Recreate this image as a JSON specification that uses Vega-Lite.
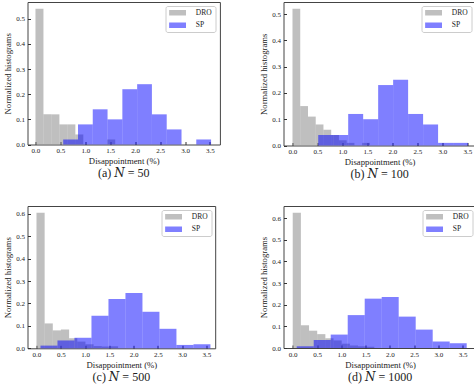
{
  "$schema": "https://vega.github.io/schema/vega-lite/v6.json",
  "padding": {"left": 2.5, "top": 1, "right": 0, "bottom": 0},
  "config": {
    "font": "Liberation Serif, DejaVu Serif, serif",
    "view": {"stroke": "#444", "strokeWidth": 1},
    "axis": {"grid": false, "domain": false, "tickSize": -3, "tickColor": "#333", "labelFont": "Liberation Serif, DejaVu Serif, serif", "labelFontSize": 7, "labelColor": "#222", "titleFont": "Liberation Serif, DejaVu Serif, serif", "titleFontSize": 8.7, "titleFontWeight": "normal", "titleColor": "#222", "labelOverlap": false},
    "axisX": {"labelPadding": 5, "titlePadding": 3, "format": ".1f", "labelFlush": false},
    "axisY": {"labelPadding": 6, "titlePadding": 3, "format": ".1f"},
    "legend": {"orient": "top-right", "offset": 4, "strokeColor": "#cccccc", "fillColor": "white", "padding": 3, "cornerRadius": 2, "labelFont": "Liberation Serif, DejaVu Serif, serif", "labelFontSize": 7.5, "labelColor": "#222", "symbolType": "M-2.6,-0.85H2.6V0.85H-2.6Z", "symbolSize": 42, "symbolStrokeWidth": 0, "symbolOpacity": 0.5, "symbolOffset": 5.3, "labelOffset": 14.5, "rowPadding": 3.5},
    "title": {"font": "Liberation Serif, DejaVu Serif, serif", "fontSize": 12, "fontWeight": "normal", "color": "#222", "offset": 3}
  },
  "data": {"values": [
    {"p": "a", "s": "DRO", "x0": 0, "x1": 0.16, "y": 0.54},
    {"p": "a", "s": "DRO", "x0": 0.16, "x1": 0.32, "y": 0.12},
    {"p": "a", "s": "DRO", "x0": 0.32, "x1": 0.48, "y": 0.12},
    {"p": "a", "s": "DRO", "x0": 0.48, "x1": 0.64, "y": 0.08},
    {"p": "a", "s": "DRO", "x0": 0.64, "x1": 0.80, "y": 0.08},
    {"p": "a", "s": "DRO", "x0": 0.80, "x1": 0.96, "y": 0.04},
    {"p": "a", "s": "DRO", "x0": 1.44, "x1": 1.60, "y": 0.02},
    {"p": "a", "s": "SP", "x0": 0.556, "x1": 0.853, "y": 0.02},
    {"p": "a", "s": "SP", "x0": 0.853, "x1": 1.149, "y": 0.08},
    {"p": "a", "s": "SP", "x0": 1.149, "x1": 1.446, "y": 0.14},
    {"p": "a", "s": "SP", "x0": 1.446, "x1": 1.743, "y": 0.10},
    {"p": "a", "s": "SP", "x0": 1.743, "x1": 2.040, "y": 0.22},
    {"p": "a", "s": "SP", "x0": 2.040, "x1": 2.336, "y": 0.24},
    {"p": "a", "s": "SP", "x0": 2.336, "x1": 2.633, "y": 0.12},
    {"p": "a", "s": "SP", "x0": 2.633, "x1": 2.930, "y": 0.06},
    {"p": "a", "s": "SP", "x0": 3.226, "x1": 3.523, "y": 0.02},
    {"p": "b", "s": "DRO", "x0": 0, "x1": 0.155, "y": 0.52},
    {"p": "b", "s": "DRO", "x0": 0.155, "x1": 0.31, "y": 0.15},
    {"p": "b", "s": "DRO", "x0": 0.31, "x1": 0.465, "y": 0.11},
    {"p": "b", "s": "DRO", "x0": 0.465, "x1": 0.62, "y": 0.08},
    {"p": "b", "s": "DRO", "x0": 0.62, "x1": 0.775, "y": 0.06},
    {"p": "b", "s": "DRO", "x0": 0.775, "x1": 0.93, "y": 0.04},
    {"p": "b", "s": "DRO", "x0": 0.93, "x1": 1.085, "y": 0.02},
    {"p": "b", "s": "DRO", "x0": 1.085, "x1": 1.24, "y": 0.01},
    {"p": "b", "s": "DRO", "x0": 1.395, "x1": 1.55, "y": 0.01},
    {"p": "b", "s": "SP", "x0": 0.515, "x1": 0.815, "y": 0.04},
    {"p": "b", "s": "SP", "x0": 0.815, "x1": 1.115, "y": 0.04},
    {"p": "b", "s": "SP", "x0": 1.115, "x1": 1.415, "y": 0.12},
    {"p": "b", "s": "SP", "x0": 1.415, "x1": 1.715, "y": 0.10},
    {"p": "b", "s": "SP", "x0": 1.715, "x1": 2.015, "y": 0.23},
    {"p": "b", "s": "SP", "x0": 2.015, "x1": 2.315, "y": 0.25},
    {"p": "b", "s": "SP", "x0": 2.315, "x1": 2.615, "y": 0.12},
    {"p": "b", "s": "SP", "x0": 2.615, "x1": 2.915, "y": 0.08},
    {"p": "b", "s": "SP", "x0": 2.915, "x1": 3.215, "y": 0.01},
    {"p": "b", "s": "SP", "x0": 3.215, "x1": 3.515, "y": 0.01},
    {"p": "c", "s": "DRO", "x0": 0, "x1": 0.168, "y": 0.605},
    {"p": "c", "s": "DRO", "x0": 0.168, "x1": 0.336, "y": 0.111},
    {"p": "c", "s": "DRO", "x0": 0.336, "x1": 0.504, "y": 0.08},
    {"p": "c", "s": "DRO", "x0": 0.504, "x1": 0.672, "y": 0.084},
    {"p": "c", "s": "DRO", "x0": 0.672, "x1": 0.84, "y": 0.045},
    {"p": "c", "s": "DRO", "x0": 0.84, "x1": 1.008, "y": 0.03},
    {"p": "c", "s": "DRO", "x0": 1.008, "x1": 1.176, "y": 0.018},
    {"p": "c", "s": "DRO", "x0": 1.176, "x1": 1.344, "y": 0.01},
    {"p": "c", "s": "DRO", "x0": 1.344, "x1": 1.512, "y": 0.008},
    {"p": "c", "s": "DRO", "x0": 1.512, "x1": 1.68, "y": 0.009},
    {"p": "c", "s": "SP", "x0": 0.082, "x1": 0.432, "y": 0.012},
    {"p": "c", "s": "SP", "x0": 0.432, "x1": 0.782, "y": 0.035},
    {"p": "c", "s": "SP", "x0": 0.782, "x1": 1.132, "y": 0.047},
    {"p": "c", "s": "SP", "x0": 1.132, "x1": 1.482, "y": 0.145},
    {"p": "c", "s": "SP", "x0": 1.482, "x1": 1.832, "y": 0.22},
    {"p": "c", "s": "SP", "x0": 1.832, "x1": 2.182, "y": 0.247},
    {"p": "c", "s": "SP", "x0": 2.182, "x1": 2.532, "y": 0.163},
    {"p": "c", "s": "SP", "x0": 2.532, "x1": 2.882, "y": 0.087},
    {"p": "c", "s": "SP", "x0": 2.882, "x1": 3.232, "y": 0.015},
    {"p": "c", "s": "SP", "x0": 3.232, "x1": 3.582, "y": 0.018},
    {"p": "d", "s": "DRO", "x0": 0, "x1": 0.168, "y": 0.625},
    {"p": "d", "s": "DRO", "x0": 0.168, "x1": 0.336, "y": 0.105},
    {"p": "d", "s": "DRO", "x0": 0.336, "x1": 0.504, "y": 0.08},
    {"p": "d", "s": "DRO", "x0": 0.504, "x1": 0.672, "y": 0.064},
    {"p": "d", "s": "DRO", "x0": 0.672, "x1": 0.84, "y": 0.045},
    {"p": "d", "s": "DRO", "x0": 0.84, "x1": 1.008, "y": 0.035},
    {"p": "d", "s": "DRO", "x0": 1.008, "x1": 1.176, "y": 0.02},
    {"p": "d", "s": "DRO", "x0": 1.176, "x1": 1.344, "y": 0.012},
    {"p": "d", "s": "DRO", "x0": 1.344, "x1": 1.512, "y": 0.008},
    {"p": "d", "s": "DRO", "x0": 1.512, "x1": 1.68, "y": 0.006},
    {"p": "d", "s": "SP", "x0": 0.082, "x1": 0.432, "y": 0.008},
    {"p": "d", "s": "SP", "x0": 0.432, "x1": 0.782, "y": 0.037},
    {"p": "d", "s": "SP", "x0": 0.782, "x1": 1.132, "y": 0.062},
    {"p": "d", "s": "SP", "x0": 1.132, "x1": 1.482, "y": 0.152},
    {"p": "d", "s": "SP", "x0": 1.482, "x1": 1.832, "y": 0.228},
    {"p": "d", "s": "SP", "x0": 1.832, "x1": 2.182, "y": 0.236},
    {"p": "d", "s": "SP", "x0": 2.182, "x1": 2.532, "y": 0.145},
    {"p": "d", "s": "SP", "x0": 2.532, "x1": 2.882, "y": 0.085},
    {"p": "d", "s": "SP", "x0": 2.882, "x1": 3.232, "y": 0.03},
    {"p": "d", "s": "SP", "x0": 3.232, "x1": 3.582, "y": 0.022}
  ]},
  "columns": 2,
  "bounds": "flush",
  "spacing": {"row": 60, "column": 63},
  "resolve": {"scale": {"color": "independent", "x": "independent", "y": "independent"}, "legend": {"color": "independent"}},
  "concat": [
    {
      "width": 192.4, "height": 142.5,
      "title": {"text": "(a) 𝑁 = 50", "orient": "bottom"},
      "transform": [{"filter": "datum.p == 'a'"}],
      "mark": {"type": "rect", "opacity": 0.5, "strokeWidth": 0},
      "encoding": {
        "x": {"field": "x0", "type": "quantitative", "scale": {"domain": [-0.16, 3.70], "nice": false, "zero": false}, "axis": {"title": "Disappointment (%)", "values": [0, 0.5, 1, 1.5, 2, 2.5, 3, 3.5]}},
        "x2": {"field": "x1"},
        "y": {"field": "y", "type": "quantitative", "scale": {"domain": [0, 0.567], "nice": false}, "axis": {"title": "Normalized histograms", "values": [0, 0.1, 0.2, 0.3, 0.4, 0.5]}},
        "y2": {"datum": 0},
        "color": {"field": "s", "type": "nominal", "scale": {"domain": ["DRO", "SP"], "range": ["#808080", "#0000ff"]}, "legend": {"title": null}}
      }
    },
    {
      "width": 192.3, "height": 143.5,
      "title": {"text": "(b) 𝑁 = 100", "orient": "bottom"},
      "transform": [{"filter": "datum.p == 'b'"}],
      "mark": {"type": "rect", "opacity": 0.5, "strokeWidth": 0},
      "encoding": {
        "x": {"field": "x0", "type": "quantitative", "scale": {"domain": [-0.18, 3.67], "nice": false, "zero": false}, "axis": {"title": "Disappointment (%)", "values": [0, 0.5, 1, 1.5, 2, 2.5, 3, 3.5]}},
        "x2": {"field": "x1"},
        "y": {"field": "y", "type": "quantitative", "scale": {"domain": [0, 0.546], "nice": false}, "axis": {"title": "Normalized histograms", "values": [0, 0.1, 0.2, 0.3, 0.4, 0.5]}},
        "y2": {"datum": 0},
        "color": {"field": "s", "type": "nominal", "scale": {"domain": ["DRO", "SP"], "range": ["#808080", "#0000ff"]}, "legend": {"title": null}}
      }
    },
    {
      "width": 187.7, "height": 142.3,
      "title": {"text": "(c) 𝑁 = 500", "orient": "bottom"},
      "transform": [{"filter": "datum.p == 'c'"}],
      "mark": {"type": "rect", "opacity": 0.5, "strokeWidth": 0},
      "encoding": {
        "x": {"field": "x0", "type": "quantitative", "scale": {"domain": [-0.185, 3.68], "nice": false, "zero": false}, "axis": {"title": "Disappointment (%)", "values": [0, 0.5, 1, 1.5, 2, 2.5, 3, 3.5]}},
        "x2": {"field": "x1"},
        "y": {"field": "y", "type": "quantitative", "scale": {"domain": [0, 0.635], "nice": false}, "axis": {"title": "Normalized histograms", "values": [0, 0.1, 0.2, 0.3, 0.4, 0.5, 0.6]}},
        "y2": {"datum": 0},
        "color": {"field": "s", "type": "nominal", "scale": {"domain": ["DRO", "SP"], "range": ["#808080", "#0000ff"]}, "legend": {"title": null}}
      }
    },
    {
      "width": 193.3, "height": 142,
      "title": {"text": "(d) 𝑁 = 1000", "orient": "bottom"},
      "transform": [{"filter": "datum.p == 'd'"}],
      "mark": {"type": "rect", "opacity": 0.5, "strokeWidth": 0},
      "encoding": {
        "x": {"field": "x0", "type": "quantitative", "scale": {"domain": [-0.19, 3.79], "nice": false, "zero": false}, "axis": {"title": "Disappointment (%)", "values": [0, 0.5, 1, 1.5, 2, 2.5, 3, 3.5]}},
        "x2": {"field": "x1"},
        "y": {"field": "y", "type": "quantitative", "scale": {"domain": [0, 0.656], "nice": false}, "axis": {"title": "Normalized histograms", "values": [0, 0.1, 0.2, 0.3, 0.4, 0.5, 0.6]}},
        "y2": {"datum": 0},
        "color": {"field": "s", "type": "nominal", "scale": {"domain": ["DRO", "SP"], "range": ["#808080", "#0000ff"]}, "legend": {"title": null}}
      }
    }
  ]
}
